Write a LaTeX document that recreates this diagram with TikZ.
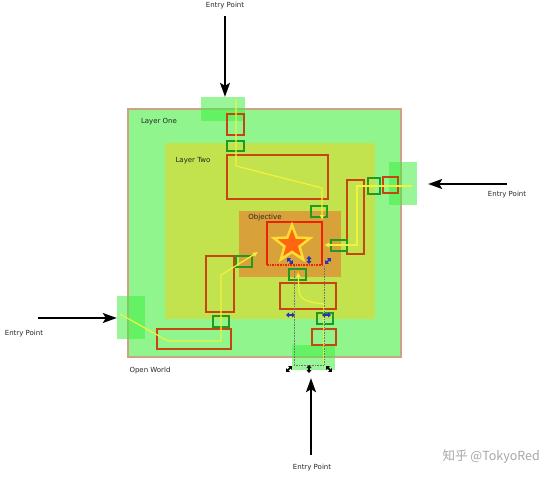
\documentclass[tikz,border=0pt]{standalone}
\usepackage{fontspec}
\setmainfont{DejaVu Sans}
\newfontfamily\cjk{Noto Sans CJK SC}
\usetikzlibrary{arrows.meta,shapes.geometric}

\definecolor{layerone}{HTML}{8FF58C}
\definecolor{layertwo}{HTML}{C2E34E}
\definecolor{objfill}{HTML}{D9A13A}
\definecolor{bordertan}{HTML}{CDA285}
\definecolor{roomred}{HTML}{C8450F}
\definecolor{boxred}{HTML}{EE2200}
\definecolor{doorgreen}{HTML}{229922}
\definecolor{zonegreen}{HTML}{44EE44}
\definecolor{routeyellow}{HTML}{F2F23A}
\definecolor{starorange}{HTML}{FF6611}
\definecolor{staryellow}{HTML}{FFDD33}
\definecolor{handleblue}{HTML}{2233BB}

\begin{document}
\begin{tikzpicture}[x=1pt,y=-1pt,
room/.style={draw=roomred,line width=1.3pt},
door/.style={draw=doorgreen,line width=1.1pt},
zone/.style={fill=zonegreen,fill opacity=0.55,inner sep=0pt},
route/.style={draw=routeyellow,line width=1.2pt},
goal/.style={route,-{Latex[length=5pt,width=5pt]}},
entry/.style={line width=1.6pt,-{Stealth[length=14pt,width=10pt,inset=3pt]}},
lbl/.style={font=\fontsize{7}{8}\selectfont,text=black!85,inner sep=0pt},
handle/.style={line width=1.5pt,{Triangle[length=3pt,width=5pt]}-{Triangle[length=3pt,width=5pt]}},
selbox/.style={densely dotted,draw=black!55,line width=0.6pt}]
\useasboundingbox (0,0) rectangle (554,482);

% layers
\draw[draw=bordertan,line width=2.5pt,fill=layerone] (128,109) rectangle (401,357);
\fill[layertwo] (165,143) rectangle (375,319);
\fill[objfill] (239,211) rectangle (341,277);

\node[lbl] (one) at (159,122) {Layer One};
\node[lbl] (two) at (193,161) {Layer Two};
\node[lbl] (obj) at (265,218) {Objective};
\node[lbl] (open) at (150,371) {Open World};

% entry zones
\node[zone,minimum width=44pt,minimum height=24pt] (ztop) at (223,109) {};
\node[zone,minimum width=28pt,minimum height=43pt] (zright) at (403,183.5) {};
\node[zone,minimum width=28pt,minimum height=43pt] (zleft) at (131,317.5) {};
\node[zone,minimum width=43pt,minimum height=25pt] (zbottom) at (313.5,357.5) {};

% rooms
\draw[room] (227,114) rectangle (244,135);
\draw[room] (227,155) rectangle (328,199);
\draw[room] (347,180) rectangle (364,254);
\draw[room] (383,177) rectangle (398,193);
\draw[room] (206,256) rectangle (234,312);
\draw[room] (157,329) rectangle (231,349);
\draw[room] (280,283) rectangle (336,309);
\draw[room] (312,329) rectangle (336,345);

% doors
\draw[door] (227,141) rectangle (244,151);
\draw[door] (311,206) rectangle (327,217);
\draw[door] (331,240) rectangle (347,251);
\draw[door] (368,178) rectangle (380,194);
\draw[door] (236,256) rectangle (252,267);
\draw[door] (289,269) rectangle (306,280);
\draw[door] (213,316) rectangle (229,327);
\draw[door] (317,313) rectangle (333,324);

% objective
\draw[draw=boxred,line width=1.6pt] (267,265) -- (267,222) -- (322,222) -- (322,265);
\draw[draw=boxred,line width=1.6pt,densely dotted] (267,265) -- (322,265);
\node[star,star points=5,star point ratio=2.4,minimum size=38pt,inner sep=0pt,
  fill=starorange,draw=staryellow,line width=2.5pt] (goalstar) at (292,244) {};

% routes
\draw[goal] (236,99) -- (236,166) -- (322,188) -- (322,220);
\draw[goal] (412,186) -- (357,186) -- (357,245) -- (324,245);
\draw[goal] (120,314) -- (168,341) -- (221,341) -- (221,275) -- (258,252);
\draw[goal] (324,365) -- (324,304) .. controls (306,302) and (300,300) .. (299,290) -- (298,272);

% selection
\draw[selbox] (294,266) -- (294,365) -- (324,365) -- (324,266);
\draw[handle,handleblue] (287,258) -- (293,264);
\draw[handle,handleblue] (309,256) -- (309,264);
\draw[handle,handleblue] (331,258) -- (325,264);
\draw[handle,handleblue] (286,315) -- (295,315);
\draw[handle,handleblue] (322,315) -- (331,315);
\draw[handle,black] (292,366) -- (286,372);
\draw[handle,black] (309,365) -- (309,373);
\draw[handle,black] (326,366) -- (332,372);

% entry points
\node[lbl] (etop) at (225,6) {Entry Point};
\node[lbl] (eright) at (507,195) {Entry Point};
\node[lbl] (eleft) at (24,334) {Entry Point};
\node[lbl] (ebottom) at (312,468) {Entry Point};
\coordinate (ttop) at (225,16);
\coordinate (tright) at (507,184);
\coordinate (tleft) at (38,318);
\coordinate (tbottom) at (311,455);
\draw[entry] (ttop) -- (ztop.north -| ttop);
\draw[entry,shorten >=11pt] (tright) -- (zright.east |- tright);
\draw[entry] (tleft) -- (zleft.west |- tleft);
\draw[entry,shorten >=8pt] (tbottom) -- (zbottom.south -| tbottom);

\node[font=\cjk\fontsize{12.5}{14}\selectfont,text=black!35,anchor=east,inner sep=0pt] (mark) at (540,457) {知乎 @TokyoRed};
\end{tikzpicture}
\end{document}
